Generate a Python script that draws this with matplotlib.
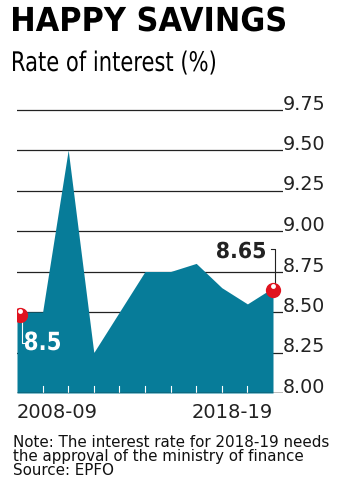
import matplotlib.pyplot as plt
import numpy as np
from matplotlib.font_manager import FontProperties
from matplotlib.patches import PathPatch
from matplotlib.textpath import TextPath
from matplotlib.transforms import Affine2D, IdentityTransform

years = ["2008-09", "2009-10", "2010-11", "2011-12", "2012-13", "2013-14",
         "2014-15", "2015-16", "2016-17", "2017-18", "2018-19"]
rates = [8.5, 8.5, 9.5, 8.25, 8.5, 8.75, 8.75, 8.8, 8.65, 8.55, 8.65]
yticks = [8.00, 8.25, 8.50, 8.75, 9.00, 9.25, 9.50, 9.75]
note_lines = ["Note: The interest rate for 2018-19 needs",
              "the approval of the ministry of finance",
              "Source: EPFO"]

TEAL = "#077c99"
RED = "#e0131f"
INK = "#222222"

W, H = 345, 491
fig = plt.figure(figsize=(W / 100, H / 100), dpi=100)


def narrow_text(s, x_px, y_px, size, width_px, weight="normal", color="black",
                ha="left", zorder=5):
    """Draw text squeezed horizontally to a given pixel width (baseline at y_px)."""
    prop = FontProperties(family="DejaVu Sans", weight=weight)
    tp = TextPath((0, 0), s, size=size, prop=prop)
    ext = tp.get_extents()
    sx = width_px / ext.width
    anchor = ext.x0 if ha == "left" else ext.x1
    tr = Affine2D().translate(-anchor, 0).scale(sx, 1).translate(x_px, H - y_px)
    fig.add_artist(PathPatch(tr.transform_path(tp), facecolor=color, lw=0,
                             transform=IdentityTransform(), zorder=zorder))


x = np.arange(len(rates))
left_px, right_px, bottom_px, top_px = 17, 283, 393, 102
ax = fig.add_axes([left_px / W, 1 - bottom_px / H,
                   (right_px - left_px) / W, (bottom_px - top_px) / H])
px_per_unit = (273 - 17) / (len(rates) - 1)
ax.set_xlim(0, (right_px - left_px) / px_per_unit)
ax.set_ylim(8.0, 8.0 + (bottom_px - top_px) / 162.0)
ax.axis("off")

for v in yticks:
    ax.axhline(v, color=INK, lw=0.9, zorder=1)
    ax.text(1.0, v, f"{v:.2f}", transform=ax.get_yaxis_transform(),
            ha="left", va="baseline", fontsize=13.8, color=INK)

ax.fill_between(x, 8.0, rates, color=TEAL, lw=0, zorder=2)
for xi in x[1:-1]:
    ax.plot([xi, xi], [8.0, 8.045], color="white", lw=0.8, zorder=3)
ax.axhline(8.0, color=INK, lw=1.0, zorder=3)

# pins on the first and last year
for xi, yi in [(x[0] + 0.12, rates[0] - 0.02), (x[-1], rates[-1] - 0.015)]:
    ax.plot(xi, yi, "o", ms=11, color=RED, mec="none", zorder=5)
    ax.plot(xi, yi + 0.028, "o", ms=3.5, color="white", mec="none", zorder=6)

# leaders
ax.plot([0.2, 0.2, 0.31], [8.45, 8.31, 8.31], color="white", lw=0.8, zorder=4)
ax.plot([10.08, 10.08, 9.92], [8.67, 8.89, 8.89], color=INK, lw=0.8, zorder=4)
narrow_text(f"{rates[0]:g}", 25, 350, 25, 35, weight="bold", color="white")
narrow_text(f"{rates[-1]:.2f}", 265, 258, 22, 48, weight="bold", color=INK,
            ha="right")

ax.text(0.0, -0.035, years[0], transform=ax.get_xaxis_transform(), ha="left",
        va="top", fontsize=14, color=INK)
ax.text(10.0, -0.035, years[-1], transform=ax.get_xaxis_transform(), ha="right",
        va="top", fontsize=14, color=INK)

narrow_text("HAPPY SAVINGS", 13, 31, 33, 272, weight="bold", color="black")
narrow_text("Rate of interest (%)", 13, 71, 27, 202, color="black")

for i, line in enumerate(note_lines):
    fig.text(13 / W, 1 - (447 + 14 * i) / H, line, fontsize=10.9,
             ha="left", va="baseline", color="#111111")

fig.savefig("out.png", dpi=100, facecolor="white")
